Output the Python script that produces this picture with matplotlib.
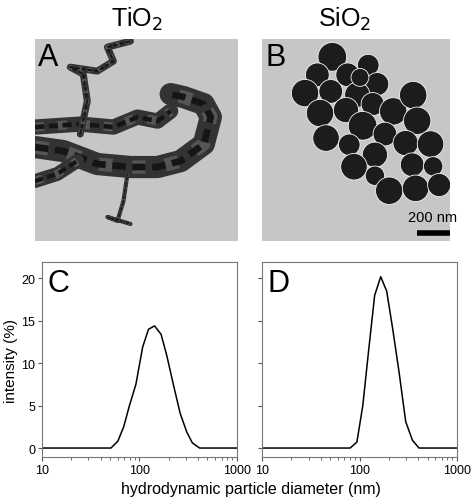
import numpy as np
import matplotlib.pyplot as plt
from matplotlib.patches import Circle

plt.rcParams['font.family'] = ['Liberation Sans', 'DejaVu Sans']

# DLS size distributions (diameter nm, intensity %)
tio2_d = [10, 51, 60, 69, 79, 92, 108, 124, 143, 167, 191, 224, 262, 306, 350, 415, 1000]
tio2_i = [0, 0, 0.8, 2.5, 5.0, 7.5, 11.9, 14.0, 14.4, 13.4, 10.9, 7.4, 4.1, 1.9, 0.6, 0, 0]
sio2_d = [10, 80, 94, 108, 124, 143, 165, 190, 218, 255, 298, 350, 408, 1000]
sio2_i = [0, 0, 0.7, 5.0, 11.5, 18.0, 20.2, 18.5, 14.2, 8.9, 3.1, 0.9, 0, 0]

# rough sketch of the TEM images (panel pixel units)
sio2_x = [70.3, 55.3, 43, 68.7, 85.7, 106.3, 115.3, 95.3, 58, 84, 110.7, 131.3, 151.3, 155.3, 100.7,
          64, 87.3, 123, 143.7, 168.7, 113, 92, 113, 150.3, 171.3, 127.3, 153.7, 177.3, 98]
sio2_y = [17.7, 35.7, 54, 52.3, 35.7, 26, 45, 55.7, 74, 71, 65, 72.3, 56, 81.7, 86.7,
          99, 105.7, 95, 104, 105, 115.7, 127.7, 136.7, 125.7, 127.3, 151.7, 149.3, 146, 38.3]
sio2_r = [13.3, 11, 12.7, 11, 11, 10, 10.7, 11.7, 12.7, 11.7, 10.7, 12.7, 12.7, 12.7, 13.3,
          12.3, 10, 11, 11.7, 12.3, 11.7, 12.3, 9, 11, 9, 12.7, 12.3, 10.7, 8.3]
tio2_branches = [
    ([0, 28, 62, 95, 122, 145, 168, 175, 168, 148, 135], [108, 112, 125, 128, 128, 122, 105, 78, 65, 58, 55], 16),
    ([0, 45, 78, 102, 122, 135], [88, 85, 88, 78, 82, 72], 11),
    ([0, 22, 42], [142, 135, 122], 10),
    ([45, 52, 48, 35, 62, 78, 72, 95], [95, 62, 35, 28, 32, 22, 8, 2], 5),
    ([92, 88, 82, 72, 95], [135, 162, 182, 178, 185], 3),
]

fig = plt.figure(figsize=(4.74, 5.02), dpi=100)
bg = '#c6c6c6'

axA = fig.add_axes([0.074, 0.518, 0.428, 0.402])
axA.set_facecolor(bg)
for bx, by, lw in tio2_branches:
    axA.plot(bx, by, color='#333333', lw=lw, solid_capstyle='round', solid_joinstyle='round')
    axA.plot(bx, by, color='#555555', lw=lw * 0.6, ls=(0, (1, 1.5)))
    axA.plot(bx, by, color='#151515', lw=lw * 0.3, ls=(0, (2, 1)))
axA.set_xlim(0, 202)
axA.set_ylim(202, 0)
axA.text(3, 3, 'A', fontsize=22, va='top', ha='left')

axB = fig.add_axes([0.553, 0.518, 0.396, 0.402])
axB.set_facecolor(bg)
for cx, cy, r in zip(sio2_x, sio2_y, sio2_r):
    axB.add_patch(Circle((cx, cy), r * 1.08, facecolor='#1c1c1c', edgecolor='#f2f2f2', lw=0.6))
axB.set_xlim(0, 188)
axB.set_ylim(202, 0)
axB.plot([155, 188], [194, 194], color='black', lw=4, solid_capstyle='butt')
axB.text(171, 185, '200 nm', fontsize=10.5, ha='center', va='bottom')
axB.text(3, 3, 'B', fontsize=22, va='top', ha='left')

for ax in (axA, axB):
    ax.set_xticks([])
    ax.set_yticks([])
    for s in ax.spines.values():
        s.set_visible(False)

fig.text(0.288, 0.962, 'TiO$_2$', fontsize=18, ha='center', va='center')
fig.text(0.728, 0.962, 'SiO$_2$', fontsize=18, ha='center', va='center')

axC = fig.add_axes([0.0886, 0.0876, 0.411, 0.388])
axD = fig.add_axes([0.553, 0.0876, 0.411, 0.388])
for ax, d, i, lab in ((axC, tio2_d, tio2_i, 'C'), (axD, sio2_d, sio2_i, 'D')):
    ax.plot(d, i, color='black', lw=1.1)
    ax.set_xscale('log')
    ax.set_xlim(10, 1000)
    ax.set_ylim(-1.06, 21.9)
    ax.set_yticks([0, 5, 10, 15, 20])
    ax.set_xticks([10, 100, 1000])
    ax.set_xticklabels(['10', '100', '1000'])
    ax.tick_params(labelsize=9, color='#555555', length=3, pad=2)
    ax.tick_params(which='minor', color='#555555', length=2)
    for s in ax.spines.values():
        s.set_color('#777777')
    ax.text(0.03, 0.97, lab, transform=ax.transAxes, fontsize=22, va='top', ha='left')
axD.set_yticklabels([])
axC.set_ylabel('intensity (%)', fontsize=11, labelpad=2)
fig.text(0.53, 0.024, 'hydrodynamic particle diameter (nm)', fontsize=11.5, ha='center', va='center')

fig.savefig('out.png', dpi=100)
